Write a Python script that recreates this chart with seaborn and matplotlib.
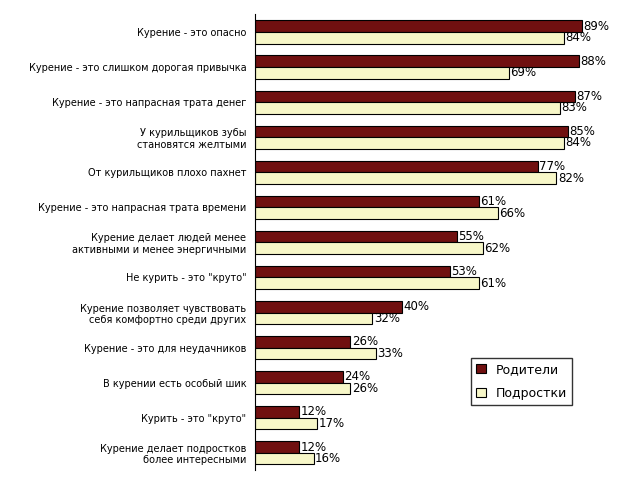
import pandas as pd
import matplotlib
matplotlib.use("Agg")
import matplotlib.pyplot as plt
import seaborn as sns

categories = [
    'Курение - это опасно',
    'Курение - это слишком дорогая привычка',
    'Курение - это напрасная трата денег',
    'У курильщиков зубы\nстановятся желтыми',
    'От курильщиков плохо пахнет',
    'Курение - это напрасная трата времени',
    'Курение делает людей менее\nактивными и менее энергичными',
    'Не курить - это "круто"',
    'Курение позволяет чувствовать\nсебя комфортно среди других',
    'Курение - это для неудачников',
    'В курении есть особый шик',
    'Курить - это "круто"',
    'Курение делает подростков\nболее интересными',
]
parents = [89, 88, 87, 85, 77, 61, 55, 53, 40, 26, 24, 12, 12]
teens = [84, 69, 83, 84, 82, 66, 62, 61, 32, 33, 26, 17, 16]

df = pd.DataFrame({
    'cat': categories * 2,
    'val': parents + teens,
    'grp': ['Родители'] * len(categories) + ['Подростки'] * len(categories),
})

fig = plt.figure(figsize=(6.4, 4.8), dpi=100)
ax = fig.add_axes([0.398, 0.02, 0.575, 0.95])
sns.barplot(data=df, y='cat', x='val', hue='grp', orient='h',
            palette={'Родители': '#800000', 'Подростки': '#FFFFC0'},
            edgecolor='black', linewidth=0.8, width=0.66, ax=ax)

for cont in ax.containers:
    ax.bar_label(cont, labels=[f'{int(v)}%' for v in cont.datavalues],
                 padding=1, fontsize=8.5)

ax.set_xlim(0, 100)
ax.set_xlabel('')
ax.set_ylabel('')
ax.set_xticks([])
ax.tick_params(axis='y', labelsize=7, length=0, pad=6)
for s in ['top', 'right', 'bottom']:
    ax.spines[s].set_visible(False)
ax.set_ylim(len(categories) - 0.5, -0.5)
ax.legend(loc='lower right', bbox_to_anchor=(0.88, 0.13), fontsize=9,
          frameon=True, fancybox=False, edgecolor='black', handlelength=0.8,
          labelspacing=0.9)

plt.savefig('out.png', dpi=100)
